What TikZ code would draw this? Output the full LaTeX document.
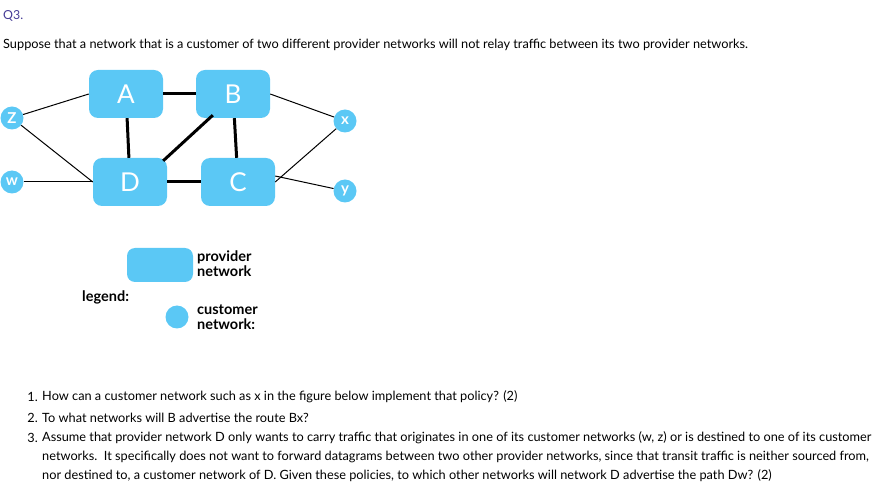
\documentclass[tikz,border=0pt]{standalone}
\usepackage{fontspec}
\setmainfont{Lato}
\definecolor{net}{RGB}{91,200,245}
\definecolor{qcol}{RGB}{70,60,150}
\begin{document}
\begin{tikzpicture}[x=1pt,y=-1pt,
  prov/.style={fill=net,draw=none,rounded corners=9pt,minimum width=74pt,minimum height=48pt,text=white,font=\fontsize{26}{26}\selectfont},
  cust/.style={circle,fill=net,draw=none,minimum size=23pt,inner sep=0pt,text=white,font=\bfseries\fontsize{15}{15}\selectfont},
  thin/.style={line width=1pt},
  thick/.style={line width=3pt},
  txt/.style={anchor=west,inner sep=0pt,font=\fontsize{12.75}{14}\selectfont},
  leg/.style={anchor=north west,inner sep=0pt,align=left,font=\bfseries\fontsize{14.5}{15}\selectfont}]
\useasboundingbox (0,0) rectangle (884,486);
\node[anchor=west,inner sep=0pt,text=qcol,font=\fontsize{12.4}{14}\selectfont] (q) at (3,16) {Q3.};
\node[txt] (intro) at (3,45) {Suppose that a network that is a customer of two different provider networks will not relay traffic between its two provider networks.};
\node[prov] (A) at (126,94) {A};
\node[prov] (B) at (233,94) {B};
\node[prov] (D) at (130,182) {D};
\node[prov] (C) at (238,182) {C};
\node[cust] (z) at (12,118) {Z};
\node[cust] (w) at (12,182) {w};
\node[cust] (x) at (345,121) {x};
\node[cust] (y) at (345,191) {y};
\draw[thin] (z) -- (A.west);
\draw[thin] (z) -- (D.west);
\draw[thin] (w) -- (D.west);
\draw[thin] (B.east) -- (x);
\draw[thin] (C.east) -- (x);
\draw[thin] (y) -- ([yshift=6pt]C.east);
\draw[thick] (A) -- (B);
\draw[thick] (A) -- (D);
\draw[thick] (B) -- (C);
\draw[thick] (D) -- (C);
\draw[thick] ([shift={(-4pt,-3pt)}]D.north east) -- ([shift={(17pt,3pt)}]B.south west);
\node[prov,minimum width=66pt,minimum height=34pt,rounded corners=8pt] (lp) at (160,265) {};
\node[leg] (lpt) at (197,251) {provider\\network};
\node[leg,anchor=west] (legd) at (82,297) {legend:};
\node[cust] (lc) at (177,317) {};
\node[leg] (lct) at (197,305) {customer\\network:};
\node[txt,anchor=east] (n1) at (38,397) {1.};
\node[txt] (t1) at (42,397) {How can a customer network such as x in the figure below implement that policy? (2)};
\node[txt,anchor=east] (n2) at (38,418) {2.};
\node[txt] (t2) at (42,418) {To what networks will B advertise the route Bx?};
\node[txt,anchor=east] (n3) at (38,438) {3.};
\node[txt] (t3) at (42,438) {Assume that provider network D only wants to carry traffic that originates in one of its customer networks (w, z) or is destined to one of its customer};
\node[txt] (t4) at (42,457) {networks.\ \ It specifically does not want to forward datagrams between two other provider networks, since that transit traffic is neither sourced from,};
\node[txt] (t5) at (42,476) {nor destined to, a customer network of D. Given these policies, to which other networks will network D advertise the path Dw? (2)};
\end{tikzpicture}
\end{document}
